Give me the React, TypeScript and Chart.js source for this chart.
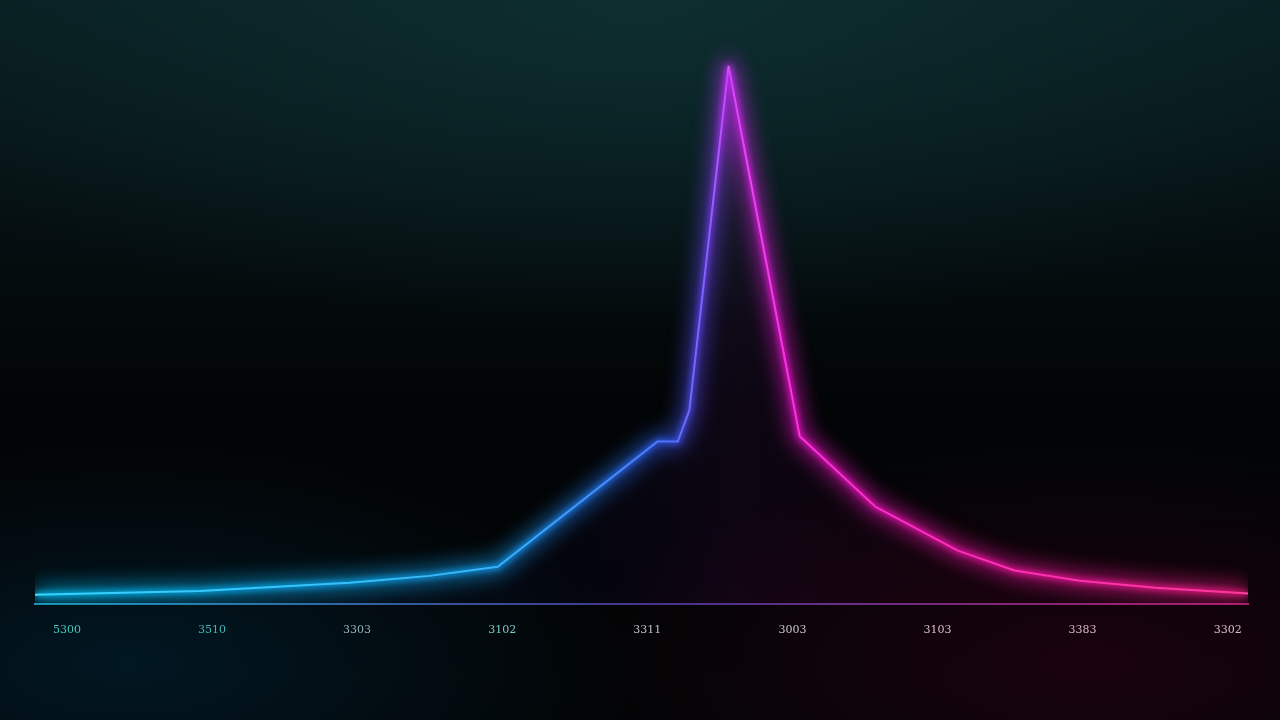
import React, { useEffect, useRef } from "react";
import { Chart, registerables } from "chart.js";

Chart.register(...registerables);

const tickValues = [0, 1, 2, 3, 4, 5, 6, 7, 8];
const tickLabels = ["5300", "3510", "3303", "3102", "3311", "3003", "3103", "3383", "3302"];
const tickColors = ["#3fc9c0", "#3fb8b8", "#8fb3b8", "#7fc6c8", "#b9c2c8", "#c9c2c8", "#d6bcc8", "#d9b6c6", "#d8b8c8"];
const xValues = [-0.22, 0.92, 1.95, 2.5, 2.97, 4.07, 4.21, 4.29, 4.56, 5.05, 5.57, 6.14, 6.53, 6.98, 7.5, 8.14];
const yValues = [1.7, 2.4, 3.9, 5.2, 6.9, 30.2, 30.2, 36, 100, 31.2, 18.1, 9.9, 6.2, 4.3, 3.0, 1.9];

const glowPlugin = {
  id: "glow",
  beforeDatasetDraw(chart: any, args: any) {
    const c = chart.ctx;
    c.save();
    if (args.index === 1) c.filter = "blur(10px)";
    else if (args.index === 2) c.filter = "blur(3px)";
  },
  afterDatasetDraw(chart: any) {
    chart.ctx.filter = "none";
    chart.ctx.restore();
  },
};

export default function App() {
  const ref = useRef<HTMLCanvasElement | null>(null);

  useEffect(() => {
    const canvas = ref.current!;
    const ctx = canvas.getContext("2d")!;
    const data = xValues.map((x, i) => ({ x, y: yValues[i] }));

    const mk = (alpha: number, light: boolean) => {
      const g = ctx.createLinearGradient(35, 0, 1248, 0);
      const c = light
        ? [
            [0, "160,240,255"],
            [0.38, "130,215,255"],
            [0.52, "140,160,255"],
            [0.555, "190,160,255"],
            [0.575, "250,160,255"],
            [0.62, "255,120,240"],
            [0.75, "255,100,210"],
            [1, "255,110,190"],
          ]
        : [
            [0, "0,200,255"],
            [0.38, "20,170,255"],
            [0.52, "50,100,255"],
            [0.555, "110,70,255"],
            [0.575, "220,40,255"],
            [0.62, "255,20,220"],
            [0.75, "255,20,180"],
            [1, "255,30,140"],
          ];
      c.forEach(([s, col]) => g.addColorStop(s as number, `rgba(${col},${alpha})`));
      return g;
    };

    const fillG = ctx.createLinearGradient(35, 0, 1248, 0);
    fillG.addColorStop(0, "rgba(0,80,120,0.02)");
    fillG.addColorStop(0.45, "rgba(40,40,160,0.06)");
    fillG.addColorStop(0.58, "rgba(120,20,140,0.10)");
    fillG.addColorStop(0.75, "rgba(120,10,70,0.06)");
    fillG.addColorStop(1, "rgba(80,0,40,0.02)");

    const axisG = ctx.createLinearGradient(42, 0, 1248, 0);
    axisG.addColorStop(0, "rgba(40,190,230,0.75)");
    axisG.addColorStop(0.5, "rgba(90,70,190,0.75)");
    axisG.addColorStop(1, "rgba(220,40,140,0.75)");

    const chart = new Chart(canvas, {
      type: "line",
      data: {
        datasets: [
          {
            data,
            borderColor: "rgba(0,0,0,0)",
            borderWidth: 0,
            pointRadius: 0,
            tension: 0,
            fill: "origin",
            backgroundColor: fillG,
          },
          {
            data,
            borderColor: mk(0.6, false),
            borderWidth: 16,
            pointRadius: 0,
            tension: 0,
            fill: false,
            borderJoinStyle: "round",
          },
          {
            data,
            borderColor: mk(0.9, false),
            borderWidth: 5,
            pointRadius: 0,
            tension: 0,
            fill: false,
            borderJoinStyle: "round",
          },
          {
            data,
            borderColor: mk(1, true),
            borderWidth: 2,
            pointRadius: 0,
            tension: 0,
            fill: false,
            borderJoinStyle: "round",
          },
        ],
      },
      options: {
        animation: false,
        responsive: true,
        maintainAspectRatio: false,
        layout: { padding: { left: 35, right: 32, top: 13, bottom: 63 } },
        plugins: { legend: { display: false }, tooltip: { enabled: false } },
        scales: {
          x: {
            type: "linear",
            min: -0.22,
            max: 8.14,
            afterBuildTicks: (axis: any) => {
              axis.ticks = tickValues.map((v) => ({ value: v }));
            },
            grid: { display: false, drawTicks: false },
            border: { display: true, color: axisG as any, width: 2 },
            ticks: {
              padding: 20,
              autoSkip: false,
              maxRotation: 0,
              font: { family: "DejaVu Serif", size: 11 },
              color: (c: any) => tickColors[c.index] || "#aaa",
              callback: (_v: any, i: number) => tickLabels[i],
            },
          },
          y: {
            display: false,
            min: 0,
            max: 110,
          },
        },
      },
      plugins: [glowPlugin],
    });
    return () => chart.destroy();
  }, []);

  return (
    <div
      style={{
        position: "fixed",
        left: 0,
        top: 0,
        width: 1280,
        height: 720,
        background:
          "radial-gradient(ellipse 40% 30% at 10% 92%, rgba(0,60,90,0.35), rgba(0,0,0,0) 100%)," +
          "radial-gradient(ellipse 40% 30% at 85% 92%, rgba(80,0,36,0.3), rgba(0,0,0,0) 100%)," +
          "radial-gradient(ellipse 70% 45% at 50% 0%, rgba(14,48,50,0.9), rgba(0,0,0,0) 100%)," +
          "linear-gradient(to bottom, #081c1f 0%, #050f11 30%, #020506 55%, #020304 80%, #020405 100%)",
      }}
    >
      <canvas ref={ref} />
    </div>
  );
}
